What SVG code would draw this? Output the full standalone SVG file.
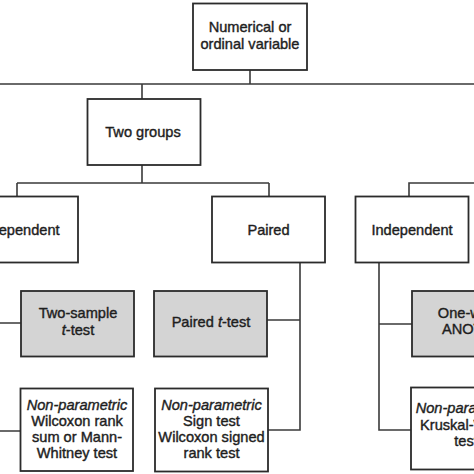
<svg xmlns="http://www.w3.org/2000/svg" width="474" height="474" viewBox="0 0 474 474">
<style>
.box{fill:#ffffff;stroke:#2b2b2b;stroke-width:1.8}
.grey{fill:#d4d4d4;stroke:#2b2b2b;stroke-width:1.8}
.ln{fill:none;stroke:#3a3a3a;stroke-width:1.6}
text{font-family:"Liberation Sans",Arial,sans-serif;font-size:14.6px;fill:#1e1e1e;text-anchor:middle;stroke:#1e1e1e;stroke-width:0.4}
.it{font-style:italic}
</style>
<rect width="474" height="474" fill="#ffffff"/>
<g id="connectors">
<path class="ln" d="M250 70V84M0 84H474M142 84V99"/>
<path class="ln" d="M142 165V183M17 183H269M17 183V196M269 183V196"/>
<path class="ln" d="M409 196V183H474"/>
<path class="ln" d="M300 262V430H268M267 320H300"/>
<path class="ln" d="M0 323H21M0 431H20"/>
<path class="ln" d="M379 263V430H411M379 324H412"/>
</g>
<g id="n-root">
<rect class="box" x="193" y="3.5" width="114" height="66.5"/>
<text x="250" y="32">Numerical or</text>
<text x="250" y="48.5">ordinal variable</text>
</g>
<g id="n-two">
<rect class="box" x="87.5" y="99" width="113" height="66"/>
<text x="143" y="137">Two groups</text>
</g>
<g id="n-indep-left">
<rect class="box" x="-35" y="196.5" width="113" height="66"/>
<text x="19" y="235">Independent</text>
</g>
<g id="n-paired">
<rect class="box" x="212" y="196.5" width="113" height="66"/>
<text x="268.5" y="235">Paired</text>
</g>
<g id="n-indep-right">
<rect class="box" x="355.5" y="196.5" width="113" height="66"/>
<text x="412" y="235">Independent</text>
</g>
<g id="n-twosample">
<rect class="grey" x="21" y="291" width="113" height="65.5"/>
<text x="78" y="318">Two-sample</text>
<text x="78" y="335"><tspan class="it">t</tspan>-test</text>
</g>
<g id="n-pairedt">
<rect class="grey" x="154" y="291" width="113" height="65.5"/>
<text x="211" y="327">Paired <tspan class="it">t</tspan>-test</text>
</g>
<g id="n-anova">
<rect class="grey" x="412" y="291" width="113" height="65.5"/>
<text x="467" y="318">One-way</text>
<text x="467" y="334">ANOVA</text>
</g>
<g id="n-np1">
<rect class="box" x="20.5" y="388.5" width="112.5" height="82.5"/>
<text class="it" x="77" y="410">Non-parametric</text>
<text x="77" y="426">Wilcoxon rank</text>
<text x="77" y="442">sum or Mann-</text>
<text x="77" y="458">Whitney test</text>
</g>
<g id="n-np2">
<rect class="box" x="155" y="388.5" width="113" height="83"/>
<text class="it" x="211.5" y="410">Non-parametric</text>
<text x="211.5" y="426">Sign test</text>
<text x="211.5" y="442">Wilcoxon signed</text>
<text x="211.5" y="458">rank test</text>
</g>
<g id="n-np3">
<rect class="box" x="411" y="387.5" width="113" height="82"/>
<text class="it" x="466" y="413">Non-parametric</text>
<text x="466" y="430">Kruskal-Wallis</text>
<text x="466" y="446">test</text>
</g>
</svg>
